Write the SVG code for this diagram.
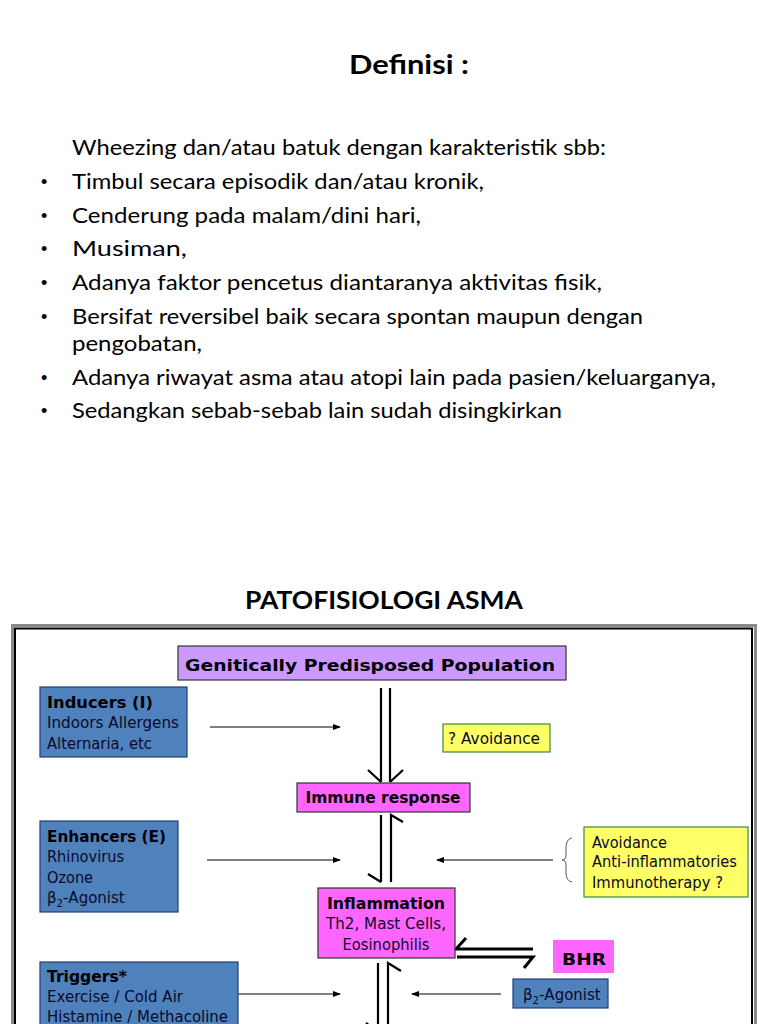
<svg xmlns="http://www.w3.org/2000/svg" width="768" height="1024" viewBox="0 0 768 1024">
<defs>
<style>
.h{font-family:Lato,"Liberation Sans",sans-serif;fill:#000}
.b{font-family:Lato,"Liberation Sans",sans-serif;font-size:22px;fill:#000}
.bu{font-family:"Liberation Sans",sans-serif;font-size:18px;fill:#000}
.d{font-family:"DejaVu Sans","Liberation Sans",sans-serif;font-size:15px;fill:#0a0a28}
.db{font-family:"DejaVu Sans","Liberation Sans",sans-serif;font-size:15px;font-weight:bold;fill:#000}
.blue{fill:#4f81bd;stroke:#243f73;stroke-width:1.2}
.mag{fill:#ff66ff;stroke:#333;stroke-width:1.2}
.yel{fill:#ffff66;stroke:#3a8a3a;stroke-width:1.2}
.thin{stroke:#000;stroke-width:1.2;fill:none}
.thick{stroke:#000;stroke-width:2.2;fill:none}
.eq{stroke:#000;stroke-width:3;fill:none}
</style>
<marker id="ah" markerWidth="8" markerHeight="6" refX="7" refY="3" orient="auto" markerUnits="userSpaceOnUse">
<path d="M0,0 L8,3 L0,6 Z" fill="#000"/>
</marker>
</defs>
<rect width="768" height="1024" fill="#fff"/>

<g id="definisi">
<text class="h" x="409" y="74" font-size="27" font-weight="bold" text-anchor="middle" textLength="120" lengthAdjust="spacingAndGlyphs">Definisi :</text>
<text class="b" x="72" y="155" textLength="534" lengthAdjust="spacingAndGlyphs">Wheezing dan/atau batuk dengan karakteristik sbb:</text>
<text class="bu" x="41" y="188">•</text>
<text class="b" x="72" y="189" textLength="412" lengthAdjust="spacingAndGlyphs">Timbul secara episodik dan/atau kronik,</text>
<text class="bu" x="41" y="222">•</text>
<text class="b" x="72" y="223" textLength="349" lengthAdjust="spacingAndGlyphs">Cenderung pada malam/dini hari,</text>
<text class="bu" x="41" y="255">•</text>
<text class="b" x="72" y="256" textLength="115" lengthAdjust="spacingAndGlyphs">Musiman,</text>
<text class="bu" x="41" y="289">•</text>
<text class="b" x="72" y="290" textLength="530" lengthAdjust="spacingAndGlyphs">Adanya faktor pencetus diantaranya aktivitas fisik,</text>
<text class="bu" x="41" y="323">•</text>
<text class="b" x="72" y="324" textLength="571" lengthAdjust="spacingAndGlyphs">Bersifat reversibel baik secara spontan maupun dengan</text>
<text class="b" x="72" y="351" textLength="130" lengthAdjust="spacingAndGlyphs">pengobatan,</text>
<text class="bu" x="41" y="384">•</text>
<text class="b" x="72" y="385" textLength="644" lengthAdjust="spacingAndGlyphs">Adanya riwayat asma atau atopi lain pada pasien/keluarganya,</text>
<text class="bu" x="41" y="417">•</text>
<text class="b" x="72" y="418" textLength="490" lengthAdjust="spacingAndGlyphs">Sedangkan sebab-sebab lain sudah disingkirkan</text>
</g>

<g id="title">
<text class="h" x="384" y="609" font-size="24" font-weight="bold" text-anchor="middle" textLength="278" lengthAdjust="spacingAndGlyphs">PATOFISIOLOGI ASMA</text>
</g>

<g id="frame">
<rect x="12.5" y="625.5" width="743" height="420" fill="none" stroke="#8a8a8a" stroke-width="3"/>
<rect x="15" y="628.5" width="737" height="420" fill="none" stroke="#000" stroke-width="2"/>
</g>

<g id="connectors">
<line class="thin" x1="210" y1="727" x2="340" y2="727" marker-end="url(#ah)"/>
<line class="thin" x1="207" y1="860" x2="340" y2="860" marker-end="url(#ah)"/>
<line class="thin" x1="553" y1="860" x2="437" y2="860" marker-end="url(#ah)"/>
<line class="thin" x1="226" y1="994" x2="340" y2="994" marker-end="url(#ah)"/>
<line class="thin" x1="501" y1="994" x2="412" y2="994" marker-end="url(#ah)"/>
<path class="thick" d="M381,688 L381,782 M390,688 L390,782 M368,770 L381,782 M403,770 L390,782"/>
<path class="thick" d="M381,815 L381,882 M368,874 L381,882 M391,882 L391,815 L403,822"/>
<path class="thick" d="M378,963 L378,1032 M366,1023 L378,1032 M388,1032 L388,963 L401,971"/>
<path class="eq" d="M533,949 L456,949 L466,938 M457,957 L533,957 L524,968"/>
<path d="M572,838 Q566,839 566,848 L566,855 Q566,860 562,860 Q566,860 566,865 L566,873 Q566,881 572,882" fill="none" stroke="#555" stroke-width="1"/>
</g>

<g id="genitically">
<rect x="178" y="646" width="388" height="34" fill="#cc99ff" stroke="#333" stroke-width="1.2"/>
<text class="db" x="370" y="671" font-size="21" text-anchor="middle" textLength="370" lengthAdjust="spacingAndGlyphs">Genitically Predisposed Population</text>
</g>

<g id="inducers">
<rect class="blue" x="40" y="687" width="147" height="70"/>
<text class="db" x="47" y="708" textLength="106" lengthAdjust="spacingAndGlyphs">Inducers (I)</text>
<text class="d" x="47" y="728" textLength="132" lengthAdjust="spacingAndGlyphs">Indoors Allergens</text>
<text class="d" x="47" y="749" textLength="105" lengthAdjust="spacingAndGlyphs">Alternaria, etc</text>
</g>

<g id="avoidance1">
<rect class="yel" x="443" y="724" width="107" height="28"/>
<text class="d" x="494" y="744" text-anchor="middle" textLength="92" lengthAdjust="spacingAndGlyphs">? Avoidance</text>
</g>

<g id="immune">
<rect class="mag" x="297" y="783" width="173" height="29"/>
<text class="db" x="383" y="803" text-anchor="middle" textLength="155" lengthAdjust="spacingAndGlyphs">Immune response</text>
</g>

<g id="enhancers">
<rect class="blue" x="40" y="821" width="138" height="91"/>
<text class="db" x="47" y="842" textLength="119" lengthAdjust="spacingAndGlyphs">Enhancers (E)</text>
<text class="d" x="47" y="862" textLength="77" lengthAdjust="spacingAndGlyphs">Rhinovirus</text>
<text class="d" x="47" y="883" textLength="46" lengthAdjust="spacingAndGlyphs">Ozone</text>
<text class="d" x="47" y="903">β<tspan font-size="10" dy="4">2</tspan><tspan dy="-4">-Agonist</tspan></text>
</g>

<g id="avoidance2">
<rect class="yel" x="584" y="827" width="164" height="70"/>
<text class="d" x="592" y="848" textLength="75" lengthAdjust="spacingAndGlyphs">Avoidance</text>
<text class="d" x="592" y="867" textLength="145" lengthAdjust="spacingAndGlyphs">Anti-inflammatories</text>
<text class="d" x="592" y="888" textLength="131" lengthAdjust="spacingAndGlyphs">Immunotherapy ?</text>
</g>

<g id="inflammation">
<rect class="mag" x="318" y="888" width="137" height="70"/>
<text class="db" x="386" y="909" text-anchor="middle" textLength="118" lengthAdjust="spacingAndGlyphs">Inflammation</text>
<text class="d" x="386" y="929" text-anchor="middle" fill="#330033" textLength="120" lengthAdjust="spacingAndGlyphs">Th2, Mast Cells,</text>
<text class="d" x="386" y="950" text-anchor="middle" fill="#330033" textLength="87" lengthAdjust="spacingAndGlyphs">Eosinophilis</text>
</g>

<g id="bhr">
<rect x="553" y="940" width="61" height="33" fill="#ff66ff"/>
<text class="db" x="584" y="965" font-size="22" text-anchor="middle" textLength="44" lengthAdjust="spacingAndGlyphs">BHR</text>
</g>

<g id="agonist">
<rect class="blue" x="513" y="979" width="95" height="29"/>
<text class="d" x="523" y="1000">β<tspan font-size="10" dy="4">2</tspan><tspan dy="-4">-Agonist</tspan></text>
</g>

<g id="triggers">
<rect class="blue" x="40" y="962" width="198" height="80"/>
<text class="db" x="47" y="982" textLength="80" lengthAdjust="spacingAndGlyphs">Triggers*</text>
<text class="d" x="47" y="1002" textLength="136" lengthAdjust="spacingAndGlyphs">Exercise / Cold Air</text>
<text class="d" x="47" y="1022" textLength="181" lengthAdjust="spacingAndGlyphs">Histamine / Methacoline</text>
</g>
</svg>
